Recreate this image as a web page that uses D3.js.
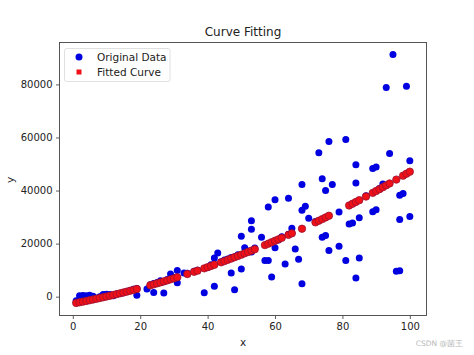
<!DOCTYPE html>
<html><head><meta charset="utf-8">
<script src="https://cdn.jsdelivr.net/npm/d3@7"></script>
<style>body{margin:0;background:#fff}svg{display:block}text{font-family:"DejaVu Sans",sans-serif;fill:#222}</style>
</head><body>
<svg id="c" width="474" height="355"></svg>
<script>
// Original data (x, y)
const dataX = [1,2,3,3,4,5,5,6,7,8,9,10,11,12,13,14,15,16,17,18,19,19,22,23,24,24,25,26,27,27,28,29,30,31,31,33,34,36,37,39,40,41,42,42,43,44,45,46,47,47,48,48,49,50,50,51,52,53,53,53,54,56,57,58,58,59,60,60,61,62,63,64,64,65,65,66,67,68,68,68,69,70,72,73,74,74,75,75,76,76,77,79,79,81,81,82,83,84,84,84,85,85,87,89,89,90,90,91,92,93,94,95,96,97,97,97,98,99,100,100];
const dataY = [-1500,300,400,200,300,500,-1000,200,-600,0,800,900,800,300,1000,1200,1500,1900,2300,2800,500,3100,2900,4500,1600,5000,5300,6000,1400,5600,6500,8500,7200,9900,5200,8900,8800,9600,10000,1500,11000,12000,14600,3900,16500,13200,13800,14200,8900,14800,2600,15000,15800,22800,10400,18400,17200,28600,25400,16800,18300,22400,13600,13600,33800,7400,36500,18400,21400,22600,12300,37100,23500,25800,24000,18000,14100,42300,32600,4900,34100,29600,28300,54200,44400,22400,40000,23100,58500,17400,42300,31900,19000,59200,13600,27400,27800,49700,42800,7000,29700,14600,38000,48300,32000,48900,32800,40800,42500,78800,54000,91300,9600,9800,38200,29100,38900,79300,51200,30200];
// Fitted curve (x, y)
const fitX = [1,2,3,4,5,6,7,8,9,10,11,12,13,14,15,16,17,18,19,23,24,25,26,27,28,29,30,31,34,36,37,39,40,41,42,44,45,46,47,48,49,50,51,52,53,54,57,58,59,60,61,62,64,65,68,72,73,74,75,76,82,83,84,85,87,89,90,91,92,93,94,96,98,99,100];
const fitY = [-2374,-2126,-1872,-1614,-1350,-1081,-807,-528,-244,46,340,640,945,1254,1569,1890,2215,2545,2881,4274,4635,5002,5373,5750,6132,6518,6910,7308,8530,9370,9798,10669,11113,11561,12015,12937,13406,13880,14359,14844,15333,15828,16328,16833,17343,17858,19434,19970,20510,21057,21608,22164,23291,23863,25609,28008,28621,29238,29862,30490,34366,35030,35699,36373,37737,39121,39822,40527,41237,41952,42672,44129,45606,46351,47103];
const xTicks = [0,20,40,60,80,100];
const yTicks = [0,20000,40000,60000,80000];
const seriesNames = ["Original Data","Fitted Curve"];

const svg = d3.select("#c");
const L=59.5, R=426.5, T=42.5, B=315.5;
const x = d3.scaleLinear().domain([-3.95,104.95]).range([L,R]);
const y = d3.scaleLinear().domain([-7100,95800]).range([B,T]);

svg.append("g").selectAll("circle").data(dataX).join("circle")
  .attr("cx",(d,i)=>x(d)).attr("cy",(d,i)=>y(dataY[i])).attr("r",3.5)
  .attr("fill","#0000e0");
svg.append("g").selectAll("circle").data(fitX).join("circle")
  .attr("cx",(d,i)=>x(d)).attr("cy",(d,i)=>y(fitY[i])).attr("r",3.7)
  .attr("fill","#f01018").attr("stroke","#9a1030").attr("stroke-width",0.8);

const xa = svg.append("g").attr("transform",`translate(0,${B})`)
  .call(d3.axisBottom(x).tickValues(xTicks).tickSize(3.5).tickPadding(3.5).tickFormat(d3.format("d")));
const ya = svg.append("g").attr("transform",`translate(${L},0)`)
  .call(d3.axisLeft(y).tickValues(yTicks).tickSize(3.5).tickPadding(3.5).tickFormat(d3.format("d")));
[xa,ya].forEach(a=>{a.select(".domain").remove();a.selectAll("line").attr("stroke","#333").attr("stroke-width",0.8);
  a.selectAll("text").attr("font-size",10).attr("font-family","DejaVu Sans").attr("fill","#222");});

svg.append("rect").attr("x",L).attr("y",T).attr("width",R-L).attr("height",B-T)
  .attr("fill","none").attr("stroke","#444").attr("stroke-width",0.9);

svg.append("text").attr("x",(L+R)/2).attr("y",36).attr("text-anchor","middle").attr("font-size",12).text("Curve Fitting");
svg.append("text").attr("x",(L+R)/2).attr("y",346).attr("text-anchor","middle").attr("font-size",10.5).text("x");
svg.append("text").attr("transform","translate(14,180) rotate(-90)").attr("text-anchor","middle").attr("font-size",10.5).text("y");

const lg = svg.append("g");
lg.append("rect").attr("x",64.5).attr("y",48.5).attr("width",105.5).attr("height",33).attr("rx",2)
  .attr("fill","#fff").attr("fill-opacity",0.8).attr("stroke","#d8d8d8").attr("stroke-width",0.8);
lg.append("circle").attr("cx",79).attr("cy",57).attr("r",3.5).attr("fill","#0000e0");
lg.append("rect").attr("x",76.5).attr("y",69.5).attr("width",5).attr("height",5).attr("fill","#f01018");
lg.selectAll("text.l").data(seriesNames).join("text").attr("class","l")
  .attr("x",97).attr("y",(d,i)=>60.5+i*15.3).attr("font-size",10.5).text(d=>d);

svg.append("text").attr("x",463).attr("y",346).attr("text-anchor","end").attr("font-size",7.5)
  .attr("font-family","'Noto Sans CJK SC',sans-serif").style("fill","#b8b8b8").text("CSDN @菌王");
</script>
</body></html>
